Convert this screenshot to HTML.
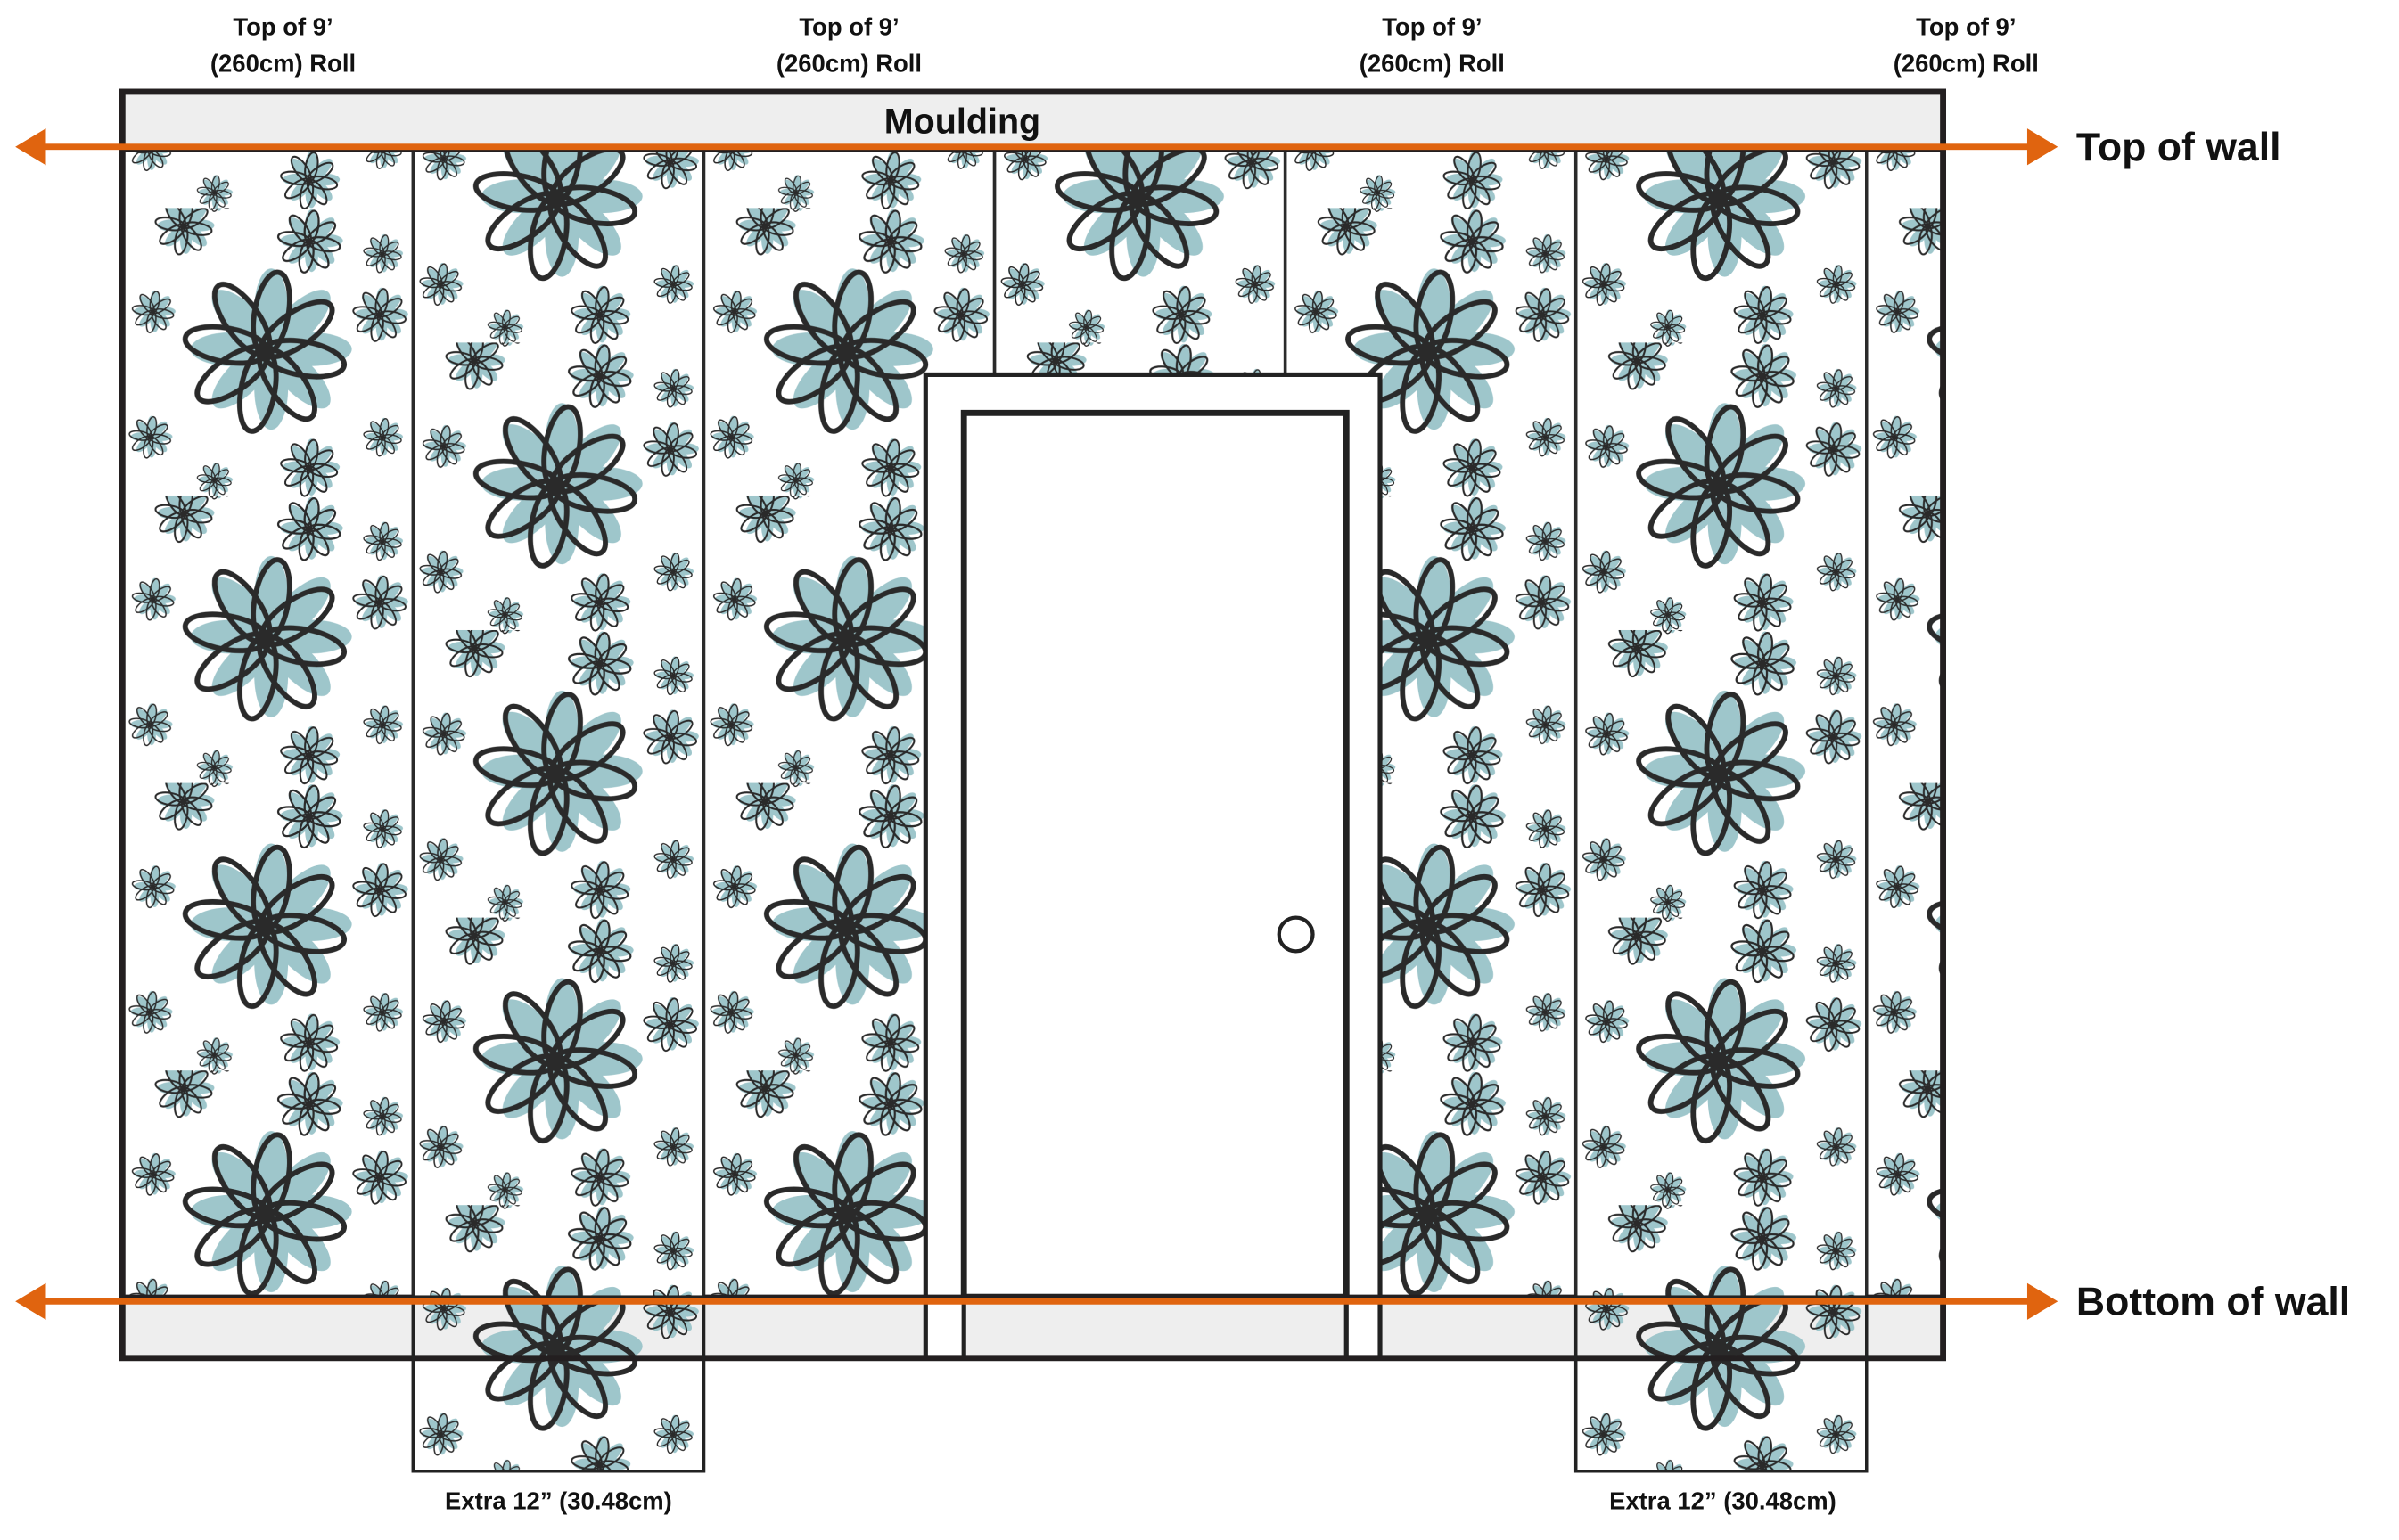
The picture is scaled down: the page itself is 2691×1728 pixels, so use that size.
<!DOCTYPE html>
<html><head><meta charset="utf-8"><style>
html,body{margin:0;padding:0;background:#fff}
svg{display:block}
text{font-family:"Liberation Sans",sans-serif;font-weight:bold;fill:#111}
</style></head><body>
<svg width="2691" height="1728" viewBox="0 0 1568 1007" preserveAspectRatio="none" xmlns="http://www.w3.org/2000/svg">
<defs>
<g id="pt">
 <ellipse cx="0" cy="-30" rx="13" ry="32"/>
</g>
<g id="fl">
 <g fill="#9ec6cb" transform="translate(5,-2)">
  <use href="#pt" transform="rotate(0)"/><use href="#pt" transform="rotate(45)"/><use href="#pt" transform="rotate(90)"/><use href="#pt" transform="rotate(135)"/><use href="#pt" transform="rotate(180)"/><use href="#pt" transform="rotate(225)"/><use href="#pt" transform="rotate(270)"/><use href="#pt" transform="rotate(315)"/>
 </g>
 <g fill="none" stroke="#2a2a2a" stroke-width="4">
  <use href="#pt" transform="rotate(10)"/><use href="#pt" transform="rotate(55)"/><use href="#pt" transform="rotate(100)"/><use href="#pt" transform="rotate(145)"/><use href="#pt" transform="rotate(190)"/><use href="#pt" transform="rotate(235)"/><use href="#pt" transform="rotate(280)"/><use href="#pt" transform="rotate(325)"/>
 </g>
</g>
<g id="tile">
 <use href="#fl" transform="translate(93,94) scale(0.85)"/>
 <use href="#fl" transform="translate(40,12) scale(0.3)"/>
 <use href="#fl" transform="translate(122,22) scale(0.33)"/>
 <use href="#fl" transform="translate(62,-10) scale(0.2)"/>
 <use href="#fl" transform="translate(20,68) scale(0.22)"/>
 <use href="#fl" transform="translate(168,70) scale(0.28)"/>
 <use href="#fl" transform="translate(170,30) scale(0.2)"/>
 <use href="#fl" transform="translate(18,150) scale(0.22)"/>
 <use href="#fl" transform="translate(170,150) scale(0.2)"/>
 <use href="#fl" transform="translate(122,170) scale(0.3)"/>
 <use href="#fl" transform="translate(60,178) scale(0.18)"/>
</g>
<pattern id="pA" patternUnits="userSpaceOnUse" x="80" y="136" width="190" height="188"><use href="#tile"/><use href="#tile" y="-188"/></pattern>
<pattern id="pB" patternUnits="userSpaceOnUse" x="270" y="36" width="190" height="188"><use href="#tile"/><use href="#tile" y="-188"/></pattern>
</defs>

<rect x="80" y="60" width="1190" height="828" fill="#fff"/>
<rect x="82" y="62" width="1186" height="36" fill="#eeeeee"/>
<rect x="82" y="848" width="1186" height="38" fill="#eeeeee"/>

<g stroke="#2a2a2a" stroke-width="2">
<rect x="80" y="98" width="190" height="750" fill="url(#pA)"/>
<rect x="270" y="98" width="190" height="864" fill="url(#pB)"/>
<rect x="460" y="98" width="190" height="750" fill="url(#pA)"/>
<rect x="650" y="98" width="190" height="150" fill="url(#pB)"/>
<rect x="840" y="98" width="190" height="750" fill="url(#pA)"/>
<rect x="1030" y="98" width="190" height="864" fill="url(#pB)"/>
<rect x="1220" y="98" width="50" height="750" fill="url(#pA)"/>
</g>

<rect x="605" y="245" width="297" height="643" fill="#fff" stroke="#222" stroke-width="3"/>
<rect x="630" y="848" width="250" height="40" fill="#eeeeee" stroke="#222" stroke-width="3"/>
<rect x="630" y="270" width="250" height="578" fill="#fff" stroke="#222" stroke-width="4"/>
<circle cx="847" cy="611" r="11" fill="#fff" stroke="#222" stroke-width="2.5"/>

<rect x="80" y="60" width="1190" height="828" fill="none" stroke="#231f20" stroke-width="4"/>
<line x1="80" y1="98" x2="1270" y2="98" stroke="#231f20" stroke-width="3"/>
<line x1="80" y1="848" x2="270" y2="848" stroke="#231f20" stroke-width="3"/>
<line x1="460" y1="848" x2="1030" y2="848" stroke="#231f20" stroke-width="3"/>
<line x1="1220" y1="848" x2="1270" y2="848" stroke="#231f20" stroke-width="3"/>
<line x1="270" y1="848" x2="460" y2="848" stroke="#222" stroke-width="2" stroke-dasharray="5,4"/>
<line x1="1030" y1="848" x2="1220" y2="848" stroke="#222" stroke-width="2" stroke-dasharray="5,4"/>
<rect x="270" y="848" width="190" height="114" fill="none" stroke="#222" stroke-width="2"/>
<rect x="1030" y="848" width="190" height="114" fill="none" stroke="#222" stroke-width="2"/>

<g fill="#e0640f">
<rect x="25" y="94" width="1305" height="4"/>
<polygon points="10,96 30,84 30,108"/><polygon points="1345,96 1325,84 1325,108"/>
<rect x="25" y="849" width="1305" height="4"/>
<polygon points="10,851 30,839 30,863"/><polygon points="1345,851 1325,839 1325,863"/>
</g>

<g font-size="16" text-anchor="middle">
<text x="185" y="23">Top of 9’</text><text x="185" y="47">(260cm) Roll</text>
<text x="555" y="23">Top of 9’</text><text x="555" y="47">(260cm) Roll</text>
<text x="936" y="23">Top of 9’</text><text x="936" y="47">(260cm) Roll</text>
<text x="1285" y="23">Top of 9’</text><text x="1285" y="47">(260cm) Roll</text>
<text x="365" y="987">Extra 12” (30.48cm)</text>
<text x="1126" y="987">Extra 12” (30.48cm)</text>
</g>
<text x="629" y="87" font-size="23" text-anchor="middle">Moulding</text>
<text x="1357" y="105" font-size="26">Top of wall</text>
<text x="1357" y="860" font-size="26">Bottom of wall</text>
</svg>
</body></html>
